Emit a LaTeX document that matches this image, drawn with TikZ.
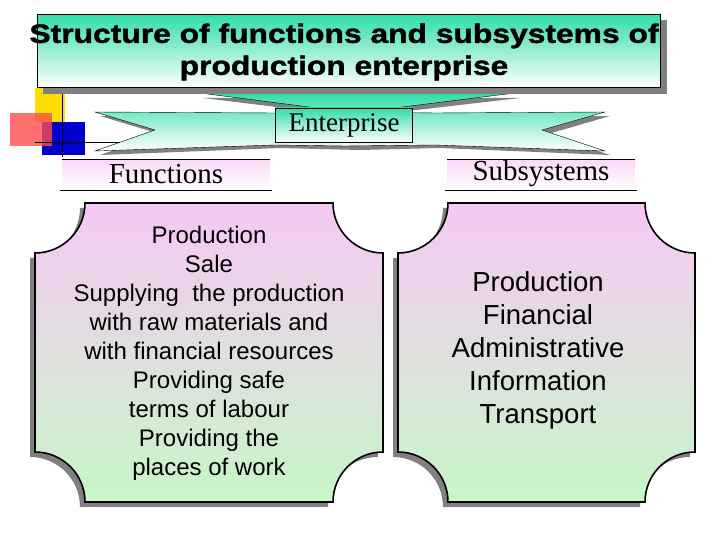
\documentclass[tikz,border=0pt]{standalone}
\usepackage{fontspec}
\setmainfont{Liberation Serif}
\setsansfont{Liberation Sans}
\newfontfamily\titlefont{Liberation Sans}[FakeStretch=1.2,BoldFeatures={FakeBold=1.5}]
\begin{document}
\begin{tikzpicture}[x=1pt,y=-1pt,
  mint/.style={top color=mint1,bottom color=white},
  boxfill/.style={top color=pinkc,bottom color=greenc},
  lab/.style={font=\fontsize{29}{32}\selectfont,inner sep=0pt},
  body/.style={font=\sffamily\fontsize{24}{29}\selectfont,align=center,inner sep=0pt}]
\definecolor{mint1}{HTML}{30DDA8}
\definecolor{pinkc}{HTML}{F6C8F4}
\definecolor{greenc}{HTML}{C8F6C8}
\definecolor{pinkl}{HTML}{FAD8F8}
\definecolor{shad}{HTML}{808080}
\useasboundingbox (0,0) rectangle (720,540);
% deco squares
\fill[yellow!80!orange] (35,88) rectangle (65,122);
\fill[blue!80!black] (42,122) rectangle (85,155);
\fill[red!70,opacity=.8] (10,113) rectangle (52,146);
% star shape shadow and fill
\fill[shad] (203,98) -- (350,116) -- (280,118) -- (100,116) -- (160,134) -- (100,155) -- (280,148) -- (360,150) -- (440,148) -- (610,155) -- (548,134) -- (610,116) -- (440,118) -- (365,116) -- (520,98) -- cycle;
\draw[mint] (200,93) -- (348,112) -- (275,113) -- (95,112) -- (155,130) -- (95,151) -- (275,145) -- (345,146) -- (435,145) -- (605,151) -- (542,130) -- (605,112) -- (435,113) -- (362,112) -- (515,93) -- cycle;
\draw (62,88) -- (62,157) (35,142) -- (120,142);
% title
\fill[shad] (43,20) rectangle (667,94);
\node[draw,mint,minimum width=623,minimum height=73,anchor=north west,inner sep=0pt] (title) at (37,14) {};
\node[font=\titlefont\bfseries\fontsize{26.5}{32}\selectfont,align=center] (tt) at (344,52) {Structure of functions and subsystems of\\production enterprise};
% Enterprise
\node[draw,mint,lab,font=\fontsize{27}{30}\selectfont,minimum width=137,minimum height=34] (ent) at (344,125) {Enterprise};
% Functions / Subsystems
\node[draw,double,double distance=2pt,top color=pinkl,bottom color=white,lab,minimum width=210,minimum height=31] (fun) at (166,174) {Functions};
\node[draw,double,double distance=2pt,top color=pinkl,bottom color=white,lab,minimum width=190,minimum height=31] (sub) at (541,174) {Subsystems};
% big boxes
\def\bbpath#1#2#3#4{(#1+50,#2) -- (#3-50,#2) arc[start angle=180,end angle=90,radius=50] -- (#3,#4-50) arc[start angle=270,end angle=180,radius=50] -- (#1+50,#4) arc[start angle=0,end angle=-90,radius=50] -- (#1,#2+50) arc[start angle=90,end angle=0,radius=50] -- cycle}
\def\bigbox#1#2#3#4{%
 \fill[shad,xshift=-5,yshift=-5] \bbpath{#1}{#2}{#3}{#4};
 \draw[line width=1.6pt,boxfill] \bbpath{#1}{#2}{#3}{#4};}
\bigbox{398}{203}{695}{502}
\bigbox{35}{203}{383}{502}
\node[body] (lt) at (209,353) {Production\\Sale\\Supplying\ \ the production\\with raw materials and\\with financial resources\\Providing safe\\terms of labour\\Providing the\\places of work};
\node[body,font=\sffamily\fontsize{27.5}{33}\selectfont] (rt) at (538,350) {Production\\Financial\\Administrative\\Information\\Transport};
\end{tikzpicture}
\end{document}
